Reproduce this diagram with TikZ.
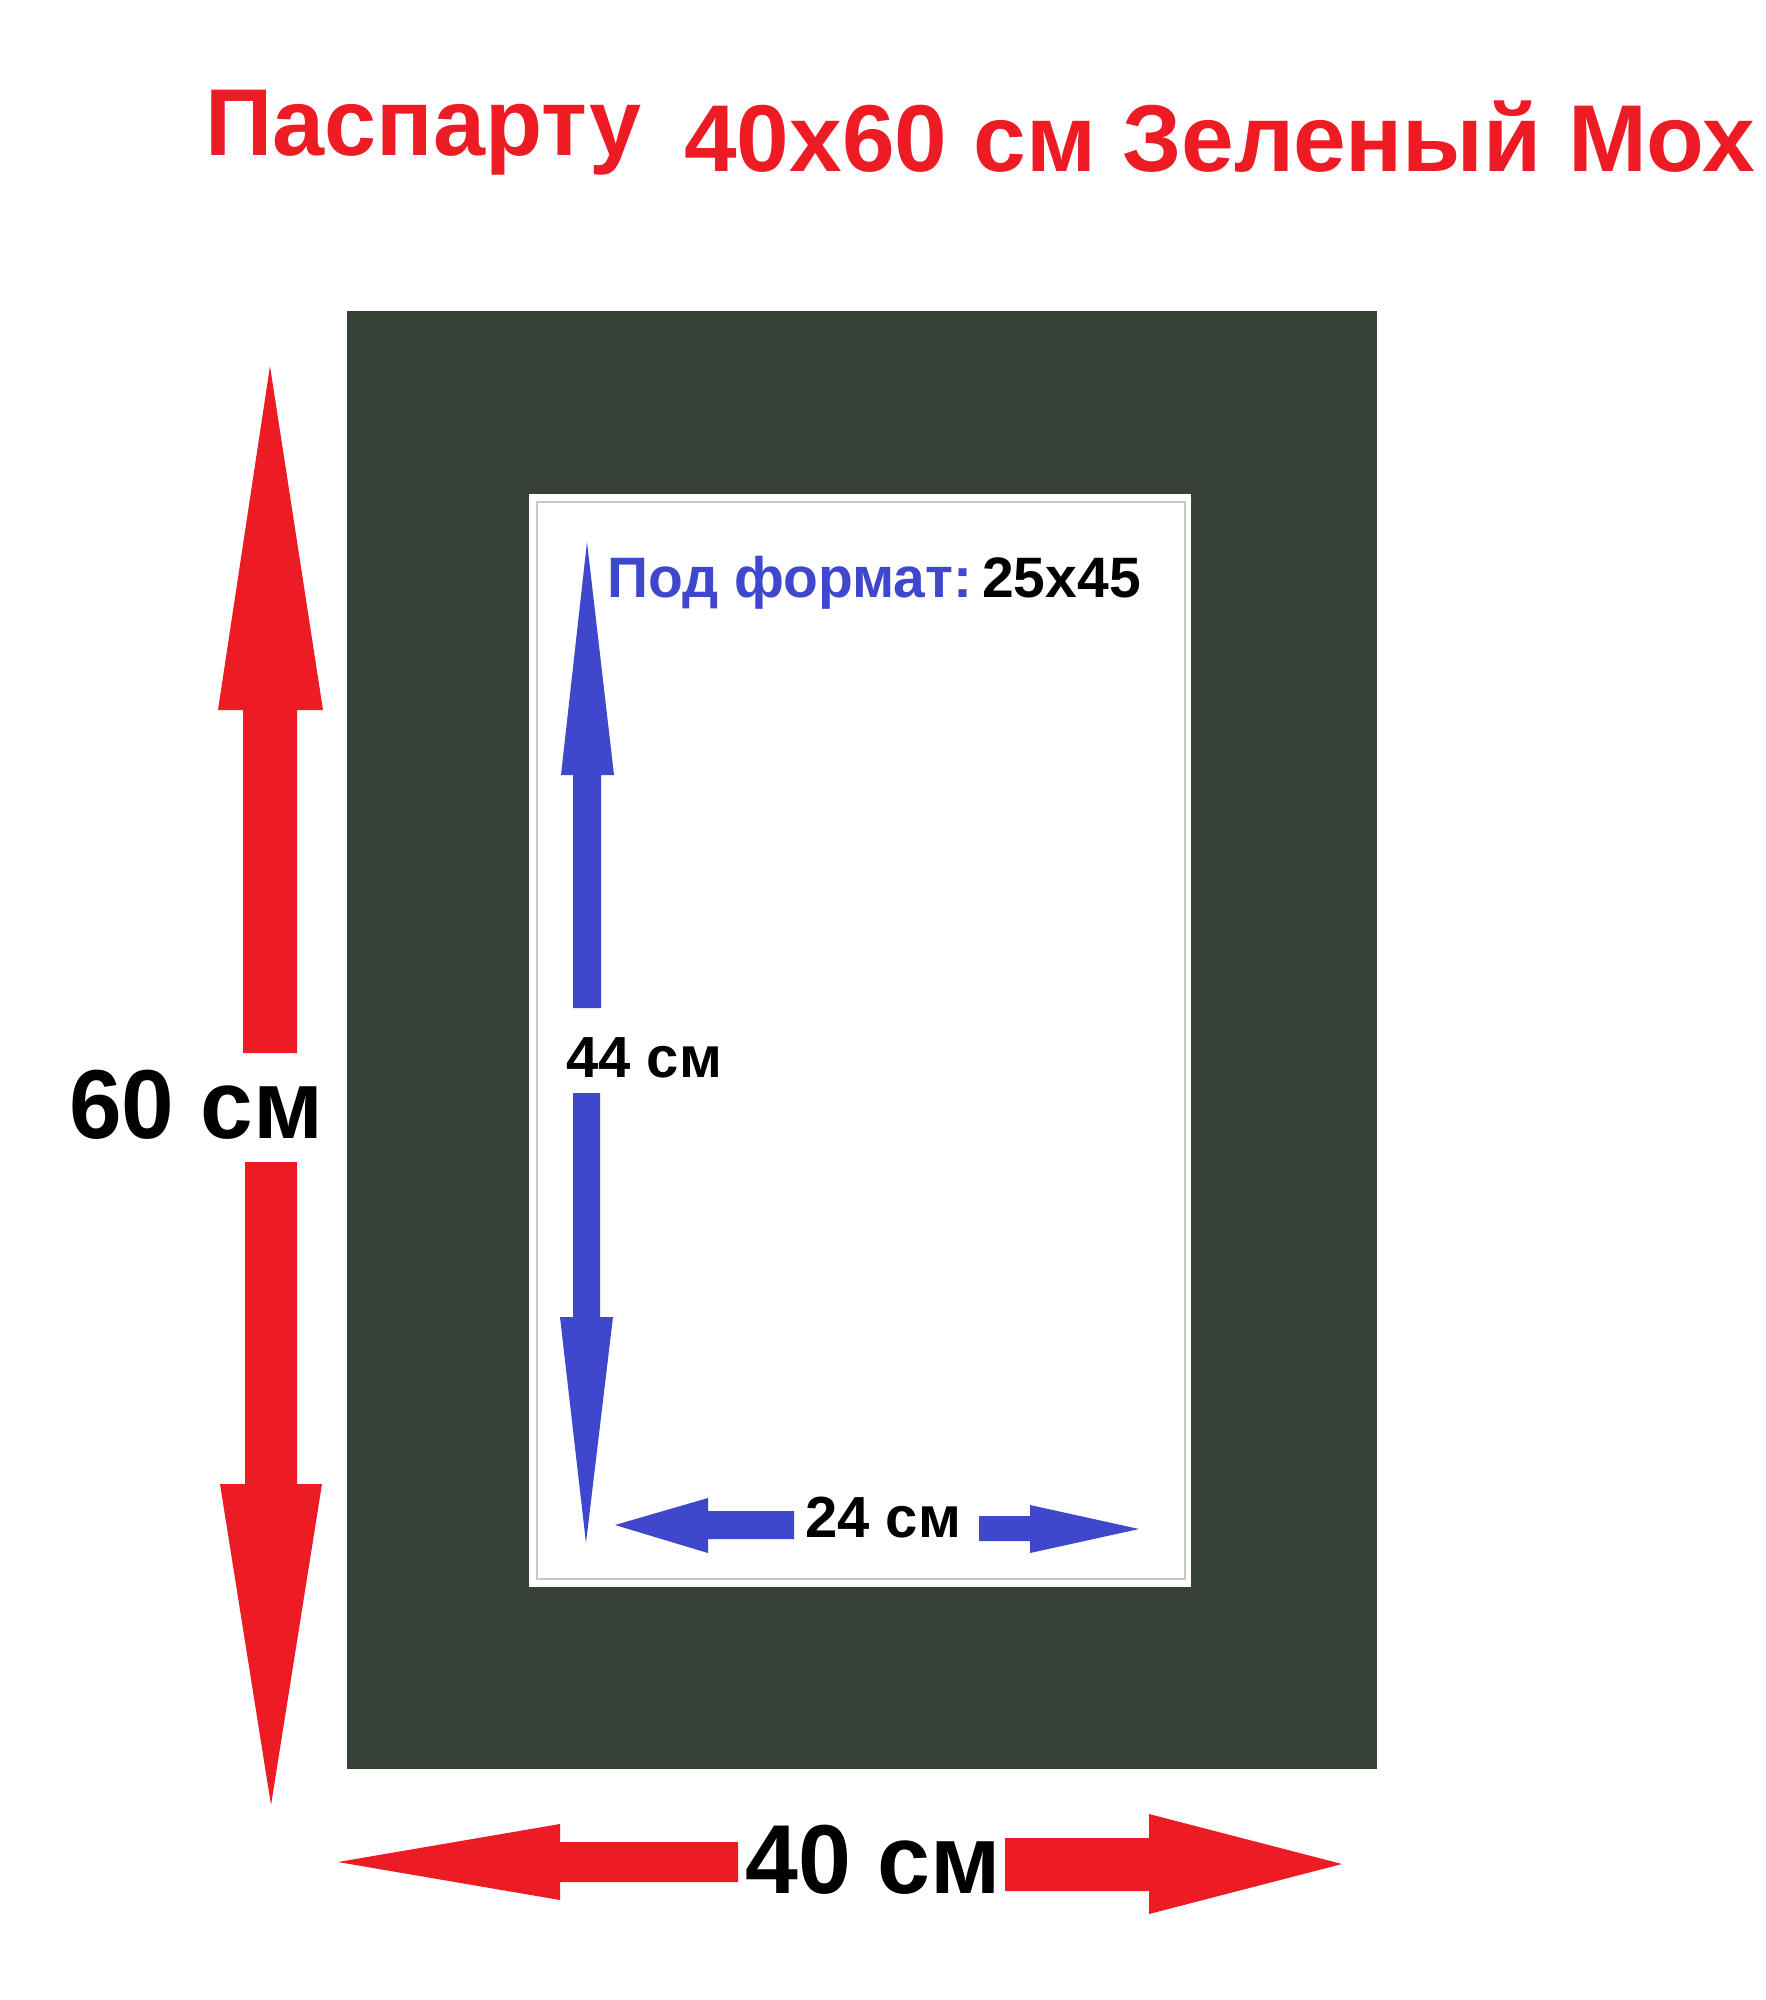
\documentclass[tikz,border=0pt]{standalone}
\usepackage{fontspec}
\setmainfont{Liberation Sans}
\usepackage{xcolor}
\usepackage{tikz}

\definecolor{arrowred}{RGB}{237,28,36}
\definecolor{arrowblue}{RGB}{63,72,204}
\definecolor{mossgreen}{RGB}{54,66,56}
\definecolor{edgegray}{RGB}{200,200,200}

\begin{document}
\begin{tikzpicture}%
                [x=1pt,
                y=-1pt,
                redarrow/.style={fill=arrowred},
                bluearrow/.style={fill=arrowblue},
                board/.style={fill=mossgreen},
                window/.style={fill=white},
                windowedge/.style={draw=edgegray, line width=1.2pt},
                dimtext/.style={inner sep=0pt, anchor=base west, font=\bfseries}]
            %
            \useasboundingbox (0,0) rectangle (1765,2000);
            %
            %% Title
            \node[dimtext, text=arrowred, xscale=0.985, font=\bfseries\fontsize{95}{95}\selectfont] (title) at (205,155) {Паспарту};
            \node[dimtext, text=arrowred, xscale=0.996, font=\bfseries\fontsize{95}{95}\selectfont] (titlesize) at (684,171) {40x60 см Зеленый Мох};
            %%
            %% Drawing the mat board
            %%
            \fill[board] (347,311) rectangle (1377,1769);
            \fill[window] (529,494) rectangle (1191,1587);
            \draw[windowedge] (537,502) rectangle (1185,1579);
            %%
            %% Outer height: 60 cm
            %%
            \fill[redarrow] (270,366) -- (323,710) -- (297,710) -- (297,1053) -- (243,1053) -- (243,710) -- (218,710) -- cycle;
            \fill[redarrow] (271,1805) -- (322,1484) -- (297,1484) -- (297,1162) -- (245,1162) -- (245,1484) -- (220,1484) -- cycle;
            \node[dimtext, xscale=0.965, font=\bfseries\fontsize{98}{98}\selectfont] (height) at (69,1138) {60 см};
            %%
            %% Outer width: 40 cm
            %%
            \fill[redarrow] (338,1862) -- (560,1824) -- (560,1842) -- (738,1842) -- (738,1882) -- (560,1882) -- (560,1900) -- cycle;
            \fill[redarrow] (1342,1864) -- (1149,1814) -- (1149,1838) -- (1005,1838) -- (1005,1891) -- (1149,1891) -- (1149,1914) -- cycle;
            \node[dimtext, xscale=0.97, font=\bfseries\fontsize{98}{98}\selectfont] (width) at (745,1893) {40 см};
            %%
            %% Window format
            %%
            \node[dimtext, text=arrowblue, font=\bfseries\fontsize{57}{57}\selectfont] (format) at (607,597) {Под формат:};
            \node[dimtext, font=\bfseries\fontsize{57}{57}\selectfont, anchor=base east] (formatsize) at (1141,597) {25x45};
            %%
            %% Window height: 44 cm
            %%
            \fill[bluearrow] (587,542) -- (614,775) -- (601,775) -- (601,1008) -- (573,1008) -- (573,775) -- (561,775) -- cycle;
            \fill[bluearrow] (586,1543) -- (613,1317) -- (600,1317) -- (600,1093) -- (573,1093) -- (573,1317) -- (560,1317) -- cycle;
            \node[dimtext, font=\bfseries\fontsize{58}{58}\selectfont] (innerheight) at (566,1077) {44 см};
            %%
            %% Window width: 24 cm
            %%
            \fill[bluearrow] (615,1525) -- (708,1498) -- (708,1511) -- (794,1511) -- (794,1539) -- (708,1539) -- (708,1553) -- cycle;
            \fill[bluearrow] (1139,1529) -- (1030,1505) -- (1030,1516) -- (979,1516) -- (979,1541) -- (1030,1541) -- (1030,1553) -- cycle;
            \node[dimtext, font=\bfseries\fontsize{58}{58}\selectfont] (innerwidth) at (805,1537) {24 см};
            %%
            \end{tikzpicture}
\end{document}
